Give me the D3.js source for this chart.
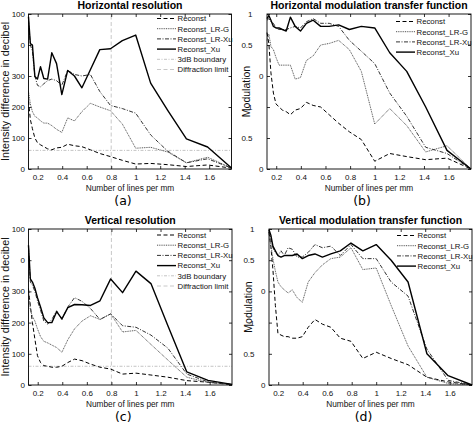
<!DOCTYPE html>
<html>
<head>
<meta charset="utf-8">
<script src="https://cdn.jsdelivr.net/npm/d3@7"></script>
<style>
  body { margin: 0; background: #fff; }
  svg { display: block; font-family: "Liberation Sans", Arial, sans-serif; }
</style>
</head>
<body>
<svg width="474" height="424"></svg>
<script>
// spatial frequencies (USAF target elements), lines per mm
const freqs = [0.125, 0.140, 0.157, 0.177, 0.198, 0.223, 0.250, 0.281, 0.315, 0.354, 0.397, 0.445,
               0.500, 0.561, 0.630, 0.707, 0.794, 0.891, 1.000, 1.122, 1.260, 1.414, 1.587, 1.782];

// (a) horizontal resolution
const resH_Reconst = [220, 160, 130, 100, 85, 78, 72, 65, 62, 68, 70, 80, 75, 72, 62, 50, 40, 28, 16, 18, 14, 8, 13, 3];
const resH_LRG     = [250, 210, 185, 170, 165, 155, 148, 148, 140, 128, 118, 165, 155, 185, 212, 200, 188, 145, 67, 70, 55, 20, 38, 3];
const resH_LRXu    = [480, 400, 380, 300, 270, 265, 275, 285, 290, 285, 270, 318, 305, 300, 305, 250, 205, 195, 180, 110, 58, 20, 33, 3];
const resH_Xu      = [491, 405, 400, 298, 290, 330, 292, 290, 375, 340, 240, 318, 300, 262, 320, 385, 388, 414, 432, 277, 190, 97, 71, 3];

// (b) horizontal MTF
const mtfH_Reconst = [0.88, 0.81, 0.62, 0.49, 0.42, 0.40, 0.38, 0.37, 0.35, 0.38, 0.39, 0.43, 0.41, 0.40, 0.35, 0.295, 0.24, 0.19, 0.05, 0.10, 0.08, 0.06, 0.07, 0];
const mtfH_LRG     = [0.83, 0.87, 0.79, 0.77, 0.72, 0.67, 0.67, 0.67, 0.67, 0.58, 0.59, 0.70, 0.73, 0.80, 0.81, 0.83, 0.77, 0.63, 0.29, 0.39, 0.28, 0.11, 0.15, 0];
const mtfH_LRXu    = [0.96, 0.97, 0.95, 0.94, 0.91, 0.90, 0.90, 0.90, 0.91, 0.92, 0.91, 0.95, 0.97, 0.94, 0.94, 0.92, 0.83, 0.76, 0.68, 0.49, 0.34, 0.14, 0.10, 0];
const mtfH_Xu      = [0.97, 0.99, 0.96, 0.92, 0.91, 0.91, 0.90, 0.89, 0.98, 0.92, 0.89, 0.94, 0.96, 0.92, 0.92, 0.93, 0.90, 0.92, 0.91, 0.75, 0.63, 0.40, 0.12, 0];

// (c) vertical resolution
const resV_Reconst = [307, 254, 200, 147, 94, 72, 62, 60, 57, 57, 60, 72, 83, 78, 67, 57, 51, 35, 38, 32, 25, 14, 9, 1];
const resV_LRG     = [310, 240, 220, 205, 180, 155, 140, 135, 128, 120, 105, 145, 180, 205, 222, 210, 228, 170, 175, 130, 80, 25, 8, 2];
const resV_LRXu    = [440, 330, 320, 300, 270, 240, 205, 195, 210, 238, 210, 250, 280, 268, 245, 210, 228, 190, 185, 160, 118, 35, 10, 2];
const resV_Xu      = [448, 340, 330, 310, 280, 250, 215, 200, 200, 235, 212, 248, 258, 257, 255, 270, 340, 296, 365, 325, 190, 42, 15, 2];

// (d) vertical MTF
const mtfV_Reconst = [0.98, 0.89, 0.74, 0.51, 0.33, 0.32, 0.31, 0.31, 0.30, 0.30, 0.31, 0.37, 0.42, 0.39, 0.37, 0.30, 0.28, 0.17, 0.21, 0.17, 0.13, 0.05, 0.02, 0];
const mtfV_LRG     = [0.98, 0.90, 0.81, 0.73, 0.66, 0.63, 0.61, 0.59, 0.61, 0.56, 0.53, 0.66, 0.72, 0.77, 0.81, 0.82, 0.88, 0.74, 0.75, 0.51, 0.25, 0.05, 0.01, 0];
const mtfV_LRXu    = [0.99, 0.94, 0.88, 0.85, 0.83, 0.86, 0.83, 0.88, 0.87, 0.82, 0.82, 0.85, 0.90, 0.88, 0.89, 0.83, 0.90, 0.81, 0.81, 0.66, 0.57, 0.23, 0.03, 0];
const mtfV_Xu      = [0.996, 0.96, 0.89, 0.86, 0.83, 0.82, 0.83, 0.83, 0.83, 0.84, 0.81, 0.83, 0.84, 0.82, 0.84, 0.86, 0.91, 0.86, 0.90, 0.80, 0.66, 0.20, 0.06, 0];

const threeDB = 60;
const diffractionLimit = 0.8;

const seriesNames = ["Reconst", "Reconst_LR-G", "Reconst_LR-Xu", "Reconst_Xu"];
const xTicks = [0.2, 0.4, 0.6, 0.8, 1, 1.2, 1.4, 1.6];
const xTickLabels = ["0.2", "0.4", "0.6", "0.8", "1", "1.2", "1.4", "1.6"];
const resTicks = [0, 100, 200, 300, 400, 500];
const resTickLabels = ["0", "100", "200", "300", "0", "100"];
const mtfTicks = [0, 0.2, 0.4, 0.6, 0.8, 1];
const mtfTickLabels = ["0", "0.5", "1", "0", "0.5", "1"];

// line styles per series
const styles = [
  { stroke: "#000", width: 1, dash: "4,2.5" },
  { stroke: "#555", width: 1, dash: "1,0.8" },
  { stroke: "#333", width: 1, dash: "4,1.5,1,1.5" },
  { stroke: "#000", width: 1.4, dash: null }
];

const panels = [
  { box: { l: 28.5, r: 231.5, t: 14, b: 169 }, title: "Horizontal resolution", tag: "(a)",
    ylab: "Intensity difference in decibel", kind: "res",
    data: [resH_Reconst, resH_LRG, resH_LRXu, resH_Xu], legendX: 157, legendY: 18.5 },
  { box: { l: 267, r: 471, t: 14, b: 169 }, title: "Horizontal modulation transfer function", tag: "(b)",
    ylab: "Modulation", kind: "mtf",
    data: [mtfH_Reconst, mtfH_LRG, mtfH_LRXu, mtfH_Xu], legendX: 396, legendY: 21.5 },
  { box: { l: 28.5, r: 232, t: 229, b: 385 }, title: "Vertical resolution", tag: "(c)",
    ylab: "Intensity difference in decibel", kind: "res",
    data: [resV_Reconst, resV_LRG, resV_LRXu, resV_Xu], legendX: 157, legendY: 235 },
  { box: { l: 269, r: 472, t: 229, b: 385 }, title: "Vertical modulation transfer function", tag: "(d)",
    ylab: "Modulation", kind: "mtf",
    data: [mtfV_Reconst, mtfV_LRG, mtfV_LRXu, mtfV_Xu], legendX: 397, legendY: 235.5 }
];

const svg = d3.select("svg");

panels.forEach(p => {
  const B = p.box;
  const isRes = p.kind === "res";
  const x = d3.scaleLinear().domain([freqs[0], freqs[freqs.length - 1]]).range([B.l, B.r]);
  const y = d3.scaleLinear().domain(isRes ? [0, 500] : [0, 1]).range([B.b, B.t]);
  const yTicks = isRes ? resTicks : mtfTicks;
  const yLabels = isRes ? resTickLabels : mtfTickLabels;

  const g = svg.append("g");

  // reference lines (only on resolution plots)
  if (isRes) {
    g.append("line")
      .attr("x1", x(diffractionLimit)).attr("x2", x(diffractionLimit))
      .attr("y1", y(0)).attr("y2", y(500))
      .attr("stroke", "#c8c8c8").attr("stroke-width", 1).attr("stroke-dasharray", "4,2.5");
    g.append("line")
      .attr("x1", B.l).attr("x2", B.r)
      .attr("y1", y(threeDB)).attr("y2", y(threeDB))
      .attr("stroke", "#bdbdbd").attr("stroke-width", 0.9).attr("stroke-dasharray", "3,1.5,1,1.5");
  }

  // series
  const line = d3.line().x((d, i) => x(freqs[i])).y(d => y(d));
  p.data.forEach((s, k) => {
    g.append("path")
      .datum(s)
      .attr("d", line)
      .attr("fill", "none")
      .attr("stroke", styles[k].stroke)
      .attr("stroke-width", styles[k].width)
      .attr("stroke-dasharray", styles[k].dash)
      .attr("stroke-linejoin", "round");
  });

  // axes with inward ticks on all sides
  const fmtX = (d, i) => xTickLabels[i];
  g.append("g").attr("transform", `translate(0,${B.b})`)
    .call(d3.axisBottom(x).tickValues(xTicks).tickFormat(fmtX).tickSize(-3).tickPadding(5));
  g.append("g").attr("transform", `translate(0,${B.t})`)
    .call(d3.axisTop(x).tickValues(xTicks).tickFormat("").tickSize(-3));
  const ay = g.append("g").attr("transform", `translate(${B.l},0)`)
    .call(d3.axisLeft(y).tickValues(yTicks).tickFormat((d, i) => yLabels[i]).tickSize(-3).tickPadding(3.5));
  g.append("g").attr("transform", `translate(${B.r},0)`)
    .call(d3.axisRight(y).tickValues(yTicks).tickFormat("").tickSize(-3));

  g.selectAll(".domain").remove();
  g.selectAll(".tick line").attr("stroke", "#000").attr("stroke-width", 0.8);
  g.selectAll(".tick text").attr("font-size", 8).attr("fill", "#111")
    .attr("font-family", "Liberation Sans, Arial, sans-serif");
  if (!isRes) {
    // the MTF labels other than "0" sit further from the axis in the original
    ay.selectAll(".tick text").attr("dx", function () { return d3.select(this).text() === "0" ? 0 : -11; });
  }

  // frame
  g.append("rect")
    .attr("x", B.l).attr("y", B.t)
    .attr("width", B.r - B.l).attr("height", B.b - B.t)
    .attr("fill", "none").attr("stroke", "#000").attr("stroke-width", 0.9);

  // legend
  const entries = seriesNames.map((n, k) => ({ name: n, st: styles[k] }));
  if (isRes) {
    entries.push({ name: "3dB boundary", st: { stroke: "#bdbdbd", width: 0.9, dash: "3,1.5,1,1.5" } });
    entries.push({ name: "Diffraction limit", st: { stroke: "#c8c8c8", width: 1, dash: "4,2.5" } });
  }
  const lg = g.append("g").attr("transform", `translate(${p.legendX},${p.legendY})`);
  entries.forEach((e, k) => {
    const row = lg.append("g").attr("transform", `translate(0,${k * 10.2})`);
    row.append("line")
      .attr("x1", 0).attr("x2", 19).attr("y1", 0).attr("y2", 0)
      .attr("stroke", e.st.stroke).attr("stroke-width", e.st.width)
      .attr("stroke-dasharray", e.st.dash);
    row.append("text")
      .attr("x", 20.5).attr("y", 2.8)
      .attr("font-size", 7.8).attr("fill", "#111")
      .text(e.name);
  });

  // titles and labels
  const cx = (B.l + B.r) / 2;
  g.append("text")
    .attr("x", cx).attr("y", B.t - 5.5)
    .attr("text-anchor", "middle")
    .attr("font-size", 10.5).attr("font-weight", "bold")
    .text(p.title);
  g.append("text")
    .attr("x", cx).attr("y", B.b + 21.5)
    .attr("text-anchor", "middle")
    .attr("font-size", 8.3).attr("fill", "#111")
    .text("Number of lines per mm");
  g.append("text")
    .attr("transform", `translate(${B.l - (isRes ? 19.5 : 17.5)},${(B.t + B.b) / 2}) rotate(-90)`)
    .attr("text-anchor", "middle")
    .attr("font-size", isRes ? 10.8 : 10.5).attr("fill", "#111")
    .text(p.ylab);
  g.append("text")
    .attr("x", cx - 7).attr("y", Math.min(B.b + 36, 421))
    .attr("text-anchor", "middle")
    .attr("font-family", "DejaVu Sans, sans-serif")
    .attr("font-size", 12.5)
    .text(p.tag);
});
</script>
</body>
</html>
